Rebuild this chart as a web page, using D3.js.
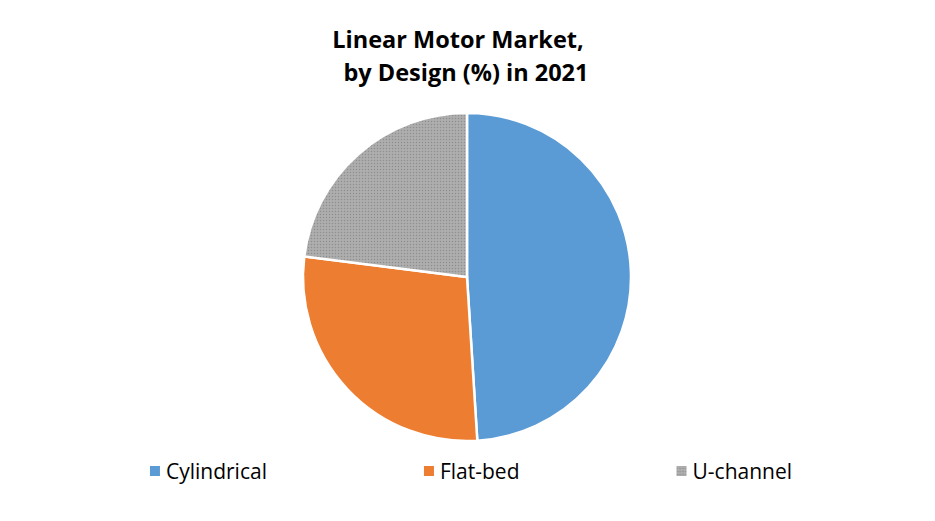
<!DOCTYPE html>
<html>
<head>
<meta charset="utf-8">
<script src="https://cdn.jsdelivr.net/npm/d3@7"></script>
<style>
  body { margin: 0; background: #fff; }
  text { font-family: "Open Sans", "Noto Sans", sans-serif; }
</style>
</head>
<body>
<script>
const categories = ['Cylindrical', 'Flat-bed', 'U-channel'];
const shares = [49, 28, 23];
const colors = ['#5b9bd5', '#ed7d31', '#a5a5a5'];
const titleLines = ['Linear Motor Market,', 'by Design (%) in 2021'];

const width = 935, height = 521;
const cx = 467, cy = 277, radius = 164;

const svg = d3.select('body').append('svg')
    .attr('width', width)
    .attr('height', height);

// fine dotted fill like the gray slice in the original
const defs = svg.append('defs');
const pat = defs.append('pattern')
    .attr('id', 'dots')
    .attr('width', 3).attr('height', 3)
    .attr('patternUnits', 'userSpaceOnUse');
pat.append('rect').attr('width', 3).attr('height', 3).attr('fill', '#a9a9a9');
pat.append('rect').attr('width', 1).attr('height', 1).attr('fill', '#8e8e8e');
pat.append('rect').attr('x', 1.5).attr('y', 1.5).attr('width', 1).attr('height', 1).attr('fill', '#bcbcbc');

const fillFor = i => i === 2 ? 'url(#dots)' : colors[i];

svg.append('text')
    .attr('y', 48)
    .attr('text-anchor', 'middle')
    .attr('font-size', 23.5)
    .attr('font-weight', 'bold')
    .selectAll('tspan')
    .data(titleLines)
    .enter().append('tspan')
    .attr('x', (d, i) => i === 0 ? 458 : 466)
    .attr('dy', (d, i) => i === 0 ? 0 : 33)
    .text(d => d);

const pie = d3.pie().sort(null).value(d => d);
const arc = d3.arc().innerRadius(0).outerRadius(radius);

svg.append('g')
    .attr('transform', `translate(${cx},${cy})`)
    .selectAll('path')
    .data(pie(shares))
    .enter().append('path')
    .attr('d', arc)
    .attr('fill', (d, i) => fillFor(i))
    .attr('stroke', '#fff')
    .attr('stroke-width', 2.5);

// legend: items separated by equal gaps, whole row centred
const legend = svg.append('g')
    .selectAll('g')
    .data(categories)
    .enter().append('g');

legend.append('rect')
    .attr('x', 0).attr('y', -5)
    .attr('width', 10).attr('height', 10)
    .attr('fill', (d, i) => fillFor(i));

legend.append('text')
    .attr('x', 16)
    .attr('y', 8)
    .attr('font-size', 21)
    .attr('fill', '#000')
    .text(d => d);

const gap = 157;
const itemW = [];
legend.each(function () { itemW.push(16 + d3.select(this).select('text').node().getComputedTextLength()); });
const total = d3.sum(itemW) + gap * (itemW.length - 1);
let lx = 471 - total / 2;
legend.attr('transform', (d, i) => {
    const t = `translate(${lx},471)`;
    lx += itemW[i] + gap;
    return t;
});
</script>
</body>
</html>
